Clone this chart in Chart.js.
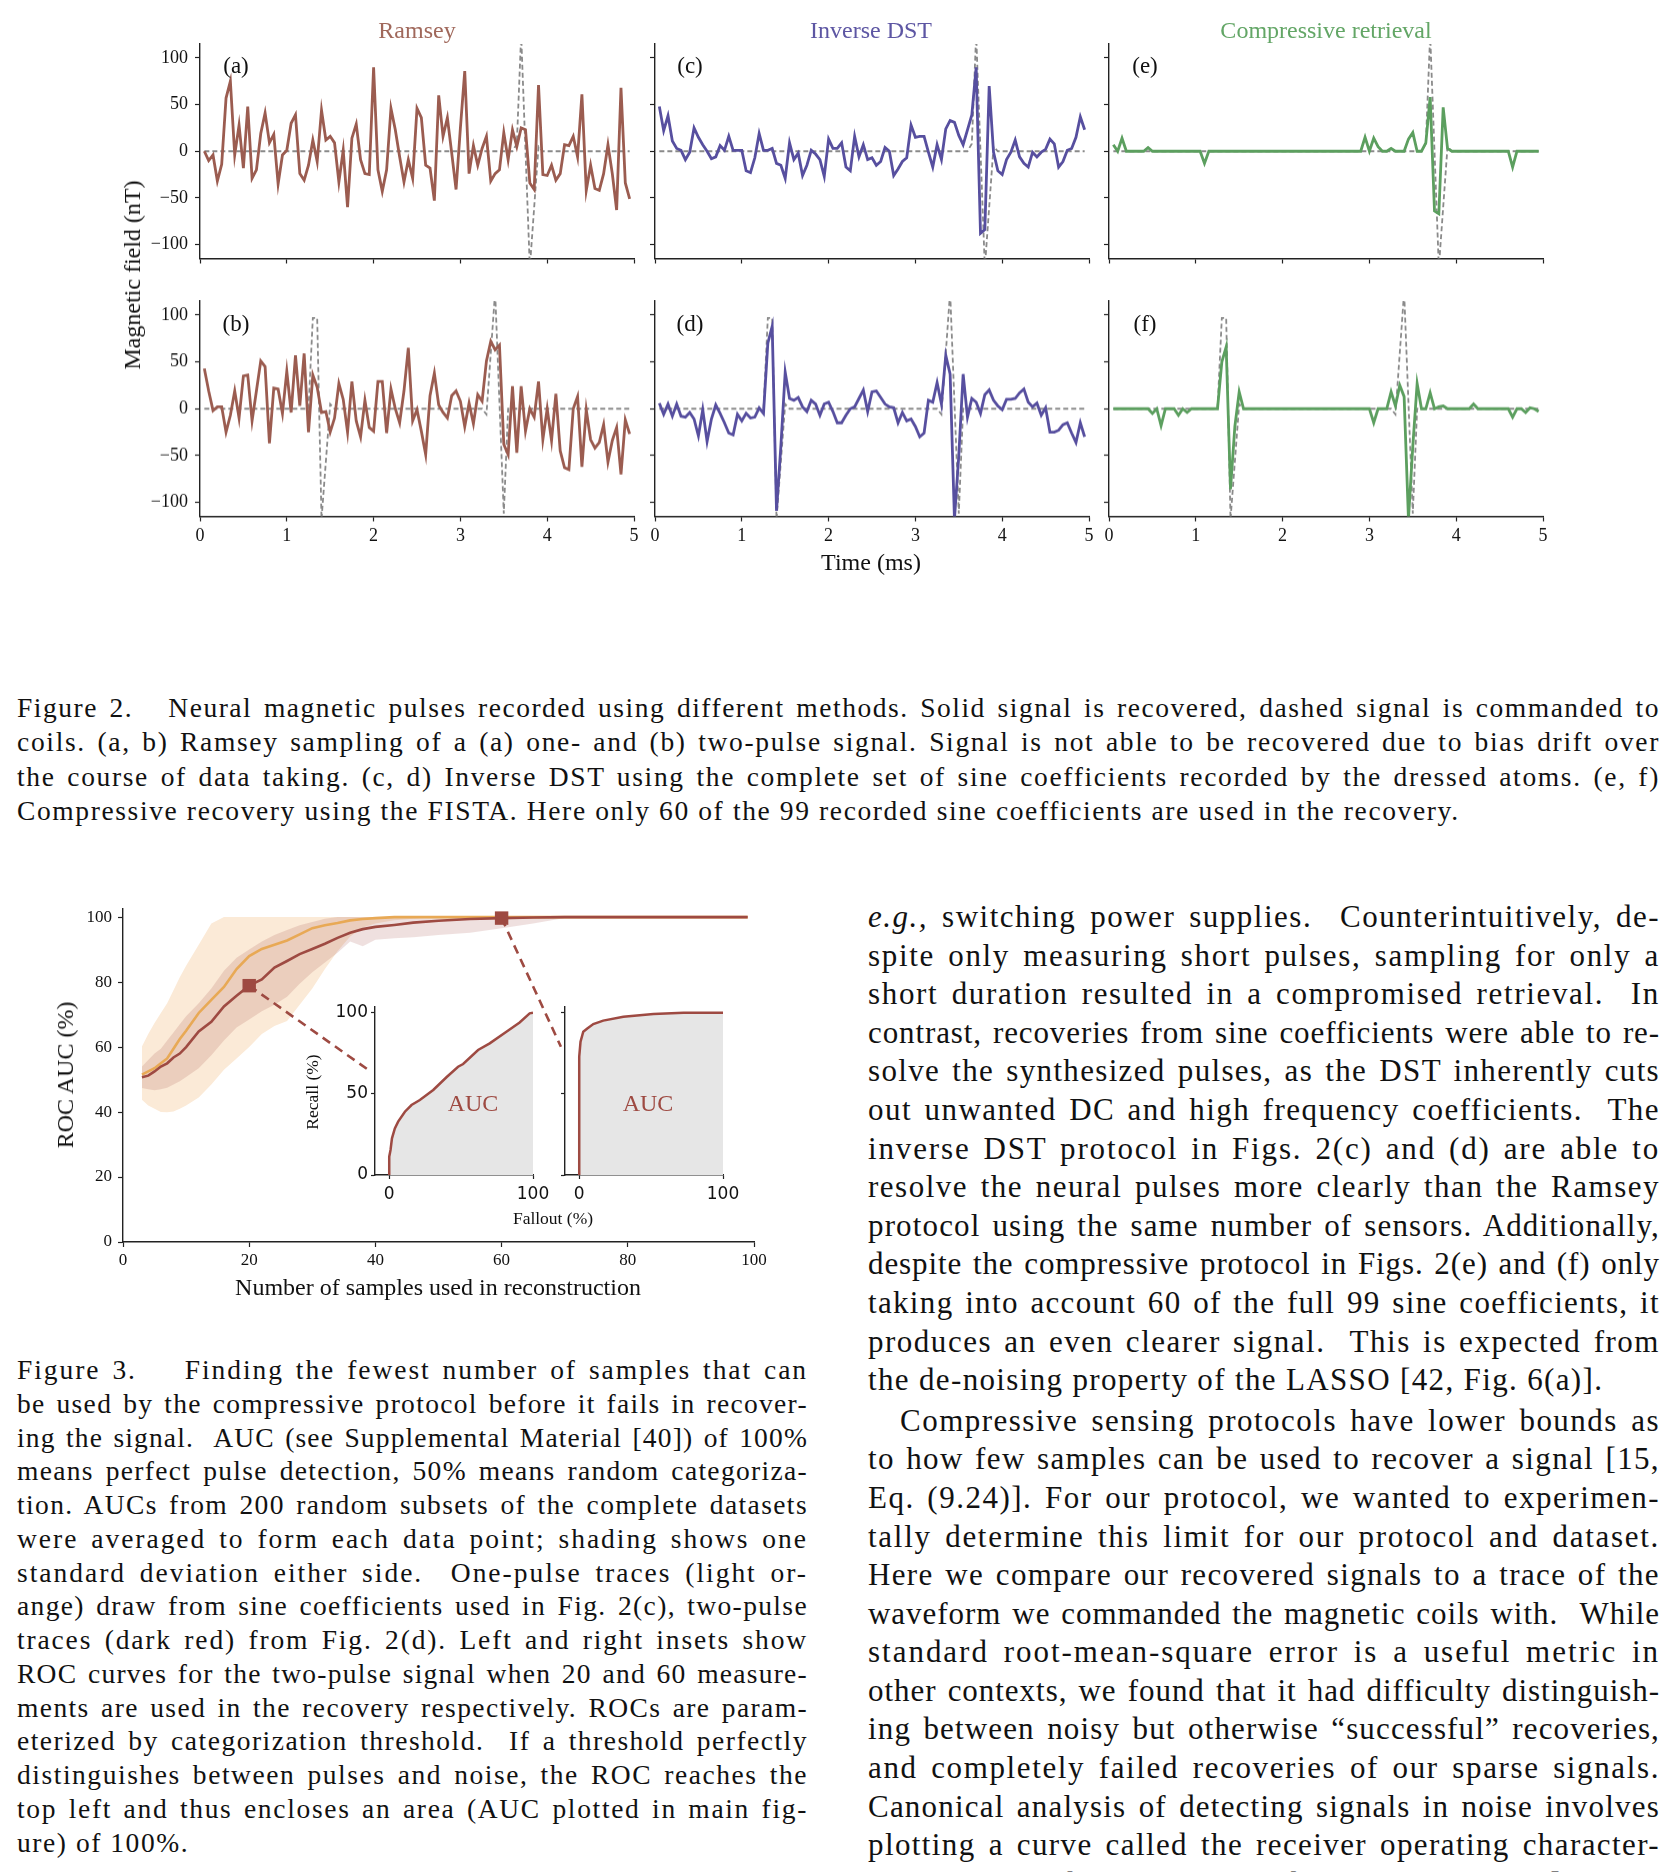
<!DOCTYPE html>
<html>
<head>
<meta charset="utf-8">
<script src="https://cdn.jsdelivr.net/npm/chart.js@4.4.1/dist/chart.umd.min.js"></script>
<style>
  html, body { margin: 0; padding: 0; background: #fff; }
  body { width: 1670px; height: 1872px; position: relative; overflow: hidden;
         font-family: "Liberation Serif", "Times New Roman", serif; color: #111; }
  .box { position: absolute; z-index: 1; }
  .lbl { position: absolute; z-index: 3; transform: translate(-50%, -50%); white-space: nowrap; line-height: 1; }
  .rot { transform: translate(-50%, -50%) rotate(-90deg); }
  .txt { position: absolute; }
  .ln { white-space: pre; }
  .cap { font-size: 27.5px; line-height: 34.3px; }
  .cap3 { font-size: 27.5px; line-height: 33.75px; }
  .body { font-size: 31px; line-height: 38.6px; }
</style>
</head>
<body>

<!-- figure 2 labels -->
<div class="lbl" style="left:417px;top:30px;font-size:24px;color:#a0685b">Ramsey</div>
<div class="lbl" style="left:871px;top:30px;font-size:24px;color:#5d56a3">Inverse DST</div>
<div class="lbl" style="left:1326px;top:30px;font-size:24px;color:#63a666">Compressive retrieval</div>
<div class="lbl rot" style="left:132px;top:275px;font-size:24px">Magnetic field (nT)</div>
<div class="lbl" style="left:871px;top:562px;font-size:24px">Time (ms)</div>
<div class="lbl" style="left:236px;top:65px;font-size:23px">(a)</div>
<div class="lbl" style="left:236px;top:323px;font-size:23px">(b)</div>
<div class="lbl" style="left:690px;top:65px;font-size:23px">(c)</div>
<div class="lbl" style="left:690px;top:323px;font-size:23px">(d)</div>
<div class="lbl" style="left:1145px;top:65px;font-size:23px">(e)</div>
<div class="lbl" style="left:1145px;top:323px;font-size:23px">(f)</div>

<div class="txt cap" id="cap2" style="left:17px;top:691px;width:1643px">
<div class="ln"><span>Figure 2.   Neural magnetic pulses recorded using different methods. Solid signal is recovered, dashed signal is commanded to</span></div>
<div class="ln"><span>coils. (a, b) Ramsey sampling of a (a) one- and (b) two-pulse signal. Signal is not able to be recovered due to bias drift over</span></div>
<div class="ln"><span>the course of data taking. (c, d) Inverse DST using the complete set of sine coefficients recorded by the dressed atoms. (e, f)</span></div>
<div class="ln last"><span>Compressive recovery using the FISTA. Here only 60 of the 99 recorded sine coefficients are used in the recovery.</span></div>
</div>

<!-- figure 3 labels -->
<div class="lbl rot" style="left:65px;top:1075px;font-size:24px">ROC AUC (%)</div>
<div class="lbl" style="left:438px;top:1287px;font-size:24px">Number of samples used in reconstruction</div>
<div class="lbl rot" style="left:313px;top:1092px;font-size:17.5px">Recall (%)</div>
<div class="lbl" style="left:553px;top:1219px;font-size:17.5px">Fallout (%)</div>
<div class="lbl" style="left:473px;top:1103px;font-size:24px;color:#9e4a42">AUC</div>
<div class="lbl" style="left:648px;top:1103px;font-size:24px;color:#9e4a42">AUC</div>

<div class="txt cap3" id="cap3" style="left:17px;top:1353px;width:791px">
<div class="ln"><span>Figure 3.    Finding the fewest number of samples that can</span></div>
<div class="ln"><span>be used by the compressive protocol before it fails in recover-</span></div>
<div class="ln"><span>ing the signal.  AUC (see Supplemental Material [40]) of 100%</span></div>
<div class="ln"><span>means perfect pulse detection, 50% means random categoriza-</span></div>
<div class="ln"><span>tion. AUCs from 200 random subsets of the complete datasets</span></div>
<div class="ln"><span>were averaged to form each data point; shading shows one</span></div>
<div class="ln"><span>standard deviation either side.  One-pulse traces (light or-</span></div>
<div class="ln"><span>ange) draw from sine coefficients used in Fig. 2(c), two-pulse</span></div>
<div class="ln"><span>traces (dark red) from Fig. 2(d). Left and right insets show</span></div>
<div class="ln"><span>ROC curves for the two-pulse signal when 20 and 60 measure-</span></div>
<div class="ln"><span>ments are used in the recovery respectively. ROCs are param-</span></div>
<div class="ln"><span>eterized by categorization threshold.  If a threshold perfectly</span></div>
<div class="ln"><span>distinguishes between pulses and noise, the ROC reaches the</span></div>
<div class="ln"><span>top left and thus encloses an area (AUC plotted in main fig-</span></div>
<div class="ln last"><span>ure) of 100%.</span></div>
</div>

<div class="txt body" id="col2" style="left:868px;top:898px;width:792px">
<div class="ln"><span><i>e.g.,</i> switching power supplies.  Counterintuitively, de-</span></div>
<div class="ln"><span>spite only measuring short pulses, sampling for only a</span></div>
<div class="ln"><span>short duration resulted in a compromised retrieval.  In</span></div>
<div class="ln"><span>contrast, recoveries from sine coefficients were able to re-</span></div>
<div class="ln"><span>solve the synthesized pulses, as the DST inherently cuts</span></div>
<div class="ln"><span>out unwanted DC and high frequency coefficients.  The</span></div>
<div class="ln"><span>inverse DST protocol in Figs. 2(c) and (d) are able to</span></div>
<div class="ln"><span>resolve the neural pulses more clearly than the Ramsey</span></div>
<div class="ln"><span>protocol using the same number of sensors. Additionally,</span></div>
<div class="ln"><span>despite the compressive protocol in Figs. 2(e) and (f) only</span></div>
<div class="ln"><span>taking into account 60 of the full 99 sine coefficients, it</span></div>
<div class="ln"><span>produces an even clearer signal.  This is expected from</span></div>
<div class="ln last"><span>the de-noising property of the LASSO [42, Fig. 6(a)].</span></div>
<div class="ln" style="padding-left:32px;margin-top:2px"><span>Compressive sensing protocols have lower bounds as</span></div>
<div class="ln"><span>to how few samples can be used to recover a signal [15,</span></div>
<div class="ln"><span>Eq. (9.24)]. For our protocol, we wanted to experimen-</span></div>
<div class="ln"><span>tally determine this limit for our protocol and dataset.</span></div>
<div class="ln"><span>Here we compare our recovered signals to a trace of the</span></div>
<div class="ln"><span>waveform we commanded the magnetic coils with.  While</span></div>
<div class="ln"><span>standard root-mean-square error is a useful metric in</span></div>
<div class="ln"><span>other contexts, we found that it had difficulty distinguish-</span></div>
<div class="ln"><span>ing between noisy but otherwise “successful” recoveries,</span></div>
<div class="ln"><span>and completely failed recoveries of our sparse signals.</span></div>
<div class="ln"><span>Canonical analysis of detecting signals in noise involves</span></div>
<div class="ln"><span>plotting a curve called the receiver operating character-</span></div>
<div class="ln"><span>istic (ROC), and then the area under the curve (AUC) [43, Sec.</span></div>
</div>

<script>
// ---- figure 2 data: sample times (ms) and recovered field (nT)
const TIME = [
  0.05, 0.10, 0.15, 0.20, 0.25, 0.30, 0.35, 0.40, 0.45, 0.50,
  0.55, 0.60, 0.65, 0.70, 0.75, 0.80, 0.85, 0.90, 0.95, 1.00,
  1.05, 1.10, 1.15, 1.20, 1.25, 1.30, 1.35, 1.40, 1.45, 1.50,
  1.55, 1.60, 1.65, 1.70, 1.75, 1.80, 1.85, 1.90, 1.95, 2.00,
  2.05, 2.10, 2.15, 2.20, 2.25, 2.30, 2.35, 2.40, 2.45, 2.50,
  2.55, 2.60, 2.65, 2.70, 2.75, 2.80, 2.85, 2.90, 2.95, 3.00,
  3.05, 3.10, 3.15, 3.20, 3.25, 3.30, 3.35, 3.40, 3.45, 3.50,
  3.55, 3.60, 3.65, 3.70, 3.75, 3.80, 3.85, 3.90, 3.95, 4.00,
  4.05, 4.10, 4.15, 4.20, 4.25, 4.30, 4.35, 4.40, 4.45, 4.50,
  4.55, 4.60, 4.65, 4.70, 4.75, 4.80, 4.85, 4.90, 4.95];

const RAMSEY_ONE = [
  0, -10, -4, -32, -14, 57, 75, -4, 28, -18,
  48, -29, -20, 19, 41, 9, 18, -35, -4, 1,
  30, 39, -24, -31, -15, 12, -11, 44, 12, 16,
  9, -33, 1, -60, 14, 29, -9, -24, -25, 90,
  -20, -43, -20, 46, 23, -6, -33, -9, -29, 46,
  36, -15, -18, -53, 60, 16, 36, -2, -41, 25,
  86, -24, 6, -15, 3, 16, -32, -24, -20, 20,
  -9, 23, 5, 25, 23, -34, -41, 71, -25, -26,
  -15, -31, -24, 7, 6, 16, -6, 61, -42, -15,
  -40, -42, -24, 7, -24, -63, 68, -34, -51];

const RAMSEY_TWO = [
  43, 19, -2, 2, 2, -25, -7, 19, -10, 35,
  36, -13, 19, 51, 45, -37, 22, 21, -5, 40,
  -4, 57, 3, 59, -25, 36, 23, -4, -3, -25,
  -10, 27, 10, -25, 29, -13, -30, 9, -20, -24,
  29, 29, -26, 21, 0, -15, 19, 65, -13, -1,
  -24, -49, 14, 38, 4, -4, -10, 14, 19, 8,
  -19, 6, -16, 15, 8, 51, 72, 63, 68, -38,
  -49, 24, -47, 24, -24, 0, -9, 29, -33, 0,
  -34, 16, -45, -63, -65, 0, 13, -62, -1, -33,
  -42, -36, -17, -57, -34, -20, -70, -12, -27];

const DST_ONE = [
  48, 22, 38, 11, 3, 1, -9, -1, 25, 15,
  7, 0, -8, -6, 6, 1, 16, 1, 1, 1,
  -21, -23, -7, 19, 1, 1, 3, -13, -15, -29,
  9, -9, -2, -26, -15, 1, -3, -9, -27, 13,
  3, 3, 9, -17, -21, 16, -6, 7, -9, -7,
  -15, -11, 4, 0, -26, -19, -11, -7, 28, 15,
  16, 16, -1, -17, 7, -9, 24, 33, 31, 17,
  7, 23, 39, 90, -88, -84, 70, -1, -21, -25,
  -9, -1, 12, -6, -13, -17, -1, -6, -1, 2,
  13, 8, -17, -11, 1, 3, 15, 37, 23];

const DST_TWO = [
  6, -6, 5, -8, 5, -8, -9, -4, -11, -29,
  -1, -35, -11, 4, -5, -15, -26, -28, -6, -13,
  -5, -10, -9, 1, -5, 70, 88, -109, -40, 39,
  11, 9, 12, 2, -3, 9, 5, -7, 5, 7,
  -3, -15, -15, -7, 0, 2, 11, 20, -3, 18,
  19, 12, 5, 2, 1, -15, -4, -13, -11, -19,
  -30, -26, 9, 7, 28, 5, 57, 37, -118, -50,
  37, -9, 11, 7, -5, 15, 20, 9, 3, -1,
  10, 10, 11, 17, 21, 7, 2, 6, -7, 1,
  -25, -25, -23, -17, -15, -26, -36, -15, -30];

const CS_ONE = [
  7, 0, 14, 0, 0, 0, 0, 0, 4, 0,
  0, 0, 0, 0, 0, 0, 0, 0, 0, 0,
  0, -13, 0, 0, 0, 0, 0, 0, 0, 0,
  0, 0, 0, 0, 0, 0, 0, 0, 0, 0,
  0, 0, 0, 0, 0, 0, 0, 0, 0, 0,
  0, 0, 0, 0, 0, 0, 0, 0, 15, 0,
  14, 5, 0, 0, 3, 0, 0, 0, 13, 20,
  0, 0, 9, 58, -64, -67, 47, 3, 0, 0,
  0, 0, 0, 0, 0, 0, 0, 0, 0, 0,
  0, 0, -17, 0, 0, 0, 0, 0, 0];

const CS_TWO = [
  0, 0, 0, 0, 0, 0, 0, 0, 0, -5,
  0, -18, 0, 0, 0, -7, 0, -4, 0, 0,
  0, 0, 0, 0, 0, 50, 66, -86, -19, 18,
  0, 0, 0, 0, 0, 0, 0, 0, 0, 0,
  0, 0, 0, 0, 0, 0, 0, 0, 0, 0,
  0, 0, 0, 0, 0, 0, 0, 0, 0, 0,
  -15, 0, 0, 0, 18, 3, 25, 13, -118, -40,
  27, 0, 0, 17, 0, 2, 3, 0, 0, 0,
  0, 0, 0, 5, 0, 0, 0, 0, 0, 0,
  0, 0, -9, 0, 0, -4, 1, 0, -3];

// commanded waveforms (dashed)
const CMD_ONE_T = [0.05, 3.60, 3.65, 3.70, 3.80, 3.90, 3.95, 4.95];
const CMD_ONE_V = [0, 0, 8, 125, -125, 5, 0, 0];
const CMD_TWO_T = [0.05, 1.25, 1.30, 1.35, 1.40, 1.50, 1.55, 3.25, 3.30, 3.40, 3.50, 3.55, 4.95];
const CMD_TWO_V = [0, 0, 97, 97, -118, 5, 0, 0, -6, 125, -112, 0, 0];

const FIELD_TICKS = [-100, -50, 0, 50, 100];
const TIME_TICKS = [0, 1, 2, 3, 4, 5];

// ---- figure 3 data: ROC AUC (%) against number of samples
const N_SAMPLES = [3, 4, 5, 6, 7, 8, 9, 10, 12, 14, 16, 18, 20, 22, 24, 26, 28, 30, 32, 34,
  36, 38, 40, 43, 46, 50, 55, 60, 65, 70, 80, 90, 99];
const AUC_ONE = [51.5, 52.5, 53.5, 55, 56.5, 59.5, 62.5, 65, 70.5, 74.5, 78.5, 84, 88, 90.2, 91.5,
  92.8, 94.7, 96.6, 97.5, 98.2, 99, 99.4, 99.7, 100, 100, 100, 100, 100, 100, 100, 100, 100, 100];
const AUC_ONE_HI = [60.2, 64, 67.4, 70.5, 73.5, 77.5, 81.5, 85, 91.5, 98, 100, 100, 100, 100, 100,
  100, 100, 100, 100, 100, 100, 100, 100, 100, 100, 100, 100, 100, 100, 100, 100, 100, 100];
const AUC_ONE_LO = [43.8, 42, 41, 40, 39.9, 40.2, 41, 42, 44.5, 48.5, 53, 56.5, 60, 64, 66.5,
  68, 73, 78, 84, 89.5, 94, 96.8, 98, 99, 99.5, 100, 100, 100, 100, 100, 100, 100, 100];
const AUC_TWO = [50.7, 51.2, 52.5, 54, 55, 56.8, 58, 60, 64.8, 67.8, 72.5, 75.8, 78.9, 80.8, 84.5,
  86.5, 88.6, 90.2, 91.8, 93.6, 95.2, 96.3, 97, 97.6, 98.3, 98.9, 99.4, 99.7, 99.9, 100, 100, 100, 100];
const AUC_TWO_HI = [54, 56, 58, 59.5, 62, 64.5, 67, 69.5, 73.5, 78, 83.5, 87.5, 90, 92.5, 94.5,
  96, 97.5, 98.5, 99.5, 100, 100, 100, 100, 100, 100, 100, 100, 100, 100, 100, 100, 100, 100];
const AUC_TWO_LO = [47.4, 47, 46.7, 47, 47.5, 48.5, 49.5, 50.8, 53.5, 57.5, 62, 66, 68.5, 71, 73,
  75.5, 79.5, 83, 86, 89, 92.5, 91, 93, 93.5, 93.8, 94.5, 95.2, 96.6, 98, 99.7, 100, 100, 100];

const MARK_X = [20, 60];
const MARK_Y = [78.9, 99.7];
const LINK_END_X = [39.3, 69.4];
const LINK_END_Y = [52.4, 60.1];

// inset ROC curves (fallout %, recall %)
const ROC20_X = [0, 0, 0.9, 1.9, 3.9, 6.2, 10.9, 15.5, 21.3, 30.6, 39.8, 47.9, 51.4, 61.8, 69.9, 81.5, 90.7, 97.7, 100];
const ROC20_Y = [0, 11.3, 15.4, 22.6, 28.7, 32.9, 39, 43.1, 46.2, 52.4, 60.2, 66.7, 68.4, 77, 81.1, 88.3, 94, 99.6, 100];
const ROC60_X = [0, 0, 0.9, 2.8, 5.6, 9.8, 16.7, 30.7, 51.6, 72.6, 100];
const ROC60_Y = [0, 72.9, 82.1, 88.3, 90.3, 93, 95.1, 97.5, 99.2, 100, 100];

const AUC_TICKS = [0, 20, 40, 60, 80, 100];
const N_TICKS = [0, 20, 40, 60, 80, 100];
const RECALL_TICKS = [0, 50, 100];
const FALLOUT_TICKS = [0, 100];

const SERIF = '"Liberation Serif", "Times New Roman", serif';
const SANS = '"DejaVu Sans", sans-serif';
const BROWN = '#9b5c50';
const PURPLE = '#574f9f';
const GREEN = '#5c9f5f';
const DASH = '#8a8a8a';
const RED = '#9e4a42';
const ORANGE = '#e8a955';

const pts = (xs, ys) => xs.map((x, i) => ({ x: x, y: ys[i] }));
const minus = v => (v < 0 ? '\u2212' + Math.abs(v) : String(v));

function makeCanvas(left, top, w, h) {
  const d = document.createElement('div');
  d.className = 'box';
  d.style.left = left + 'px';
  d.style.top = top + 'px';
  d.style.width = w + 'px';
  d.style.height = h + 'px';
  const c = document.createElement('canvas');
  d.appendChild(c);
  document.body.appendChild(d);
  return c;
}

function axis(pos, min, max, ticks, o) {
  return {
    type: 'linear', position: pos, min: min, max: max,
    afterBuildTicks: s => { s.ticks = ticks.map(v => ({ value: v })); },
    afterFit: s => {
      if (pos === 'bottom') { s.height = o.size; s.paddingLeft = 0; s.paddingRight = 0; }
      else { s.width = o.size; s.paddingTop = 0; s.paddingBottom = 0; }
    },
    border: { display: true, color: '#222', width: 1.4 },
    grid: { drawOnChartArea: false, drawTicks: true, tickLength: o.tick || 5, tickWidth: 1.2, color: '#222' },
    ticks: {
      autoSkip: false, maxRotation: 0, padding: o.pad, color: '#111', font: o.font,
      callback: v => (o.labels ? minus(v) : ''),
    },
  };
}

// box = chart area (x, y, w, h) plus room for the axes (pl, pb) and overflow (pt, pr)
function chart(box, xAxis, yAxis, datasets) {
  const c = makeCanvas(box.x - box.pl, box.y - box.pt, box.w + box.pl + box.pr, box.h + box.pt + box.pb);
  return new Chart(c, {
    type: 'line',
    data: { datasets: datasets },
    options: {
      responsive: true, maintainAspectRatio: false, animation: false,
      layout: { padding: { top: box.pt, right: box.pr, left: 0, bottom: 0 } },
      plugins: { legend: { display: false }, tooltip: { enabled: false } },
      elements: { point: { radius: 0 }, line: { tension: 0 } },
      scales: { x: xAxis, y: yAxis },
    },
  });
}

// ---- figure 2: six panels
const COL_X = [200, 654.5, 1109];
const ROW_Y = [43.5, 301];
const PANELS = [
  { vals: RAMSEY_ONE, t: CMD_ONE_T, v: CMD_ONE_V, col: 0, row: 0, color: BROWN },
  { vals: RAMSEY_TWO, t: CMD_TWO_T, v: CMD_TWO_V, col: 0, row: 1, color: BROWN },
  { vals: DST_ONE, t: CMD_ONE_T, v: CMD_ONE_V, col: 1, row: 0, color: PURPLE },
  { vals: DST_TWO, t: CMD_TWO_T, v: CMD_TWO_V, col: 1, row: 1, color: PURPLE },
  { vals: CS_ONE, t: CMD_ONE_T, v: CMD_ONE_V, col: 2, row: 0, color: GREEN },
  { vals: CS_TWO, t: CMD_TWO_T, v: CMD_TWO_V, col: 2, row: 1, color: GREEN },
];

PANELS.forEach(p => {
  const box = { x: COL_X[p.col], y: ROW_Y[p.row], w: 434, h: 214.5, pl: 60, pt: 12, pr: 14, pb: 40 };
  const tickFont = { family: SERIF, size: 18 };
  chart(box,
    axis('bottom', 0, 5, TIME_TICKS, { size: 40, pad: 4, labels: p.row === 1, font: tickFont }),
    axis('left', -115, 115, FIELD_TICKS, { size: 60, pad: 7, labels: p.col === 0, font: tickFont }),
    [
      { data: pts(TIME, p.vals), borderColor: p.color, borderWidth: 2.8, order: 0 },
      { data: pts(p.t, p.v), borderColor: DASH, borderWidth: 1.8, borderDash: [5, 3], order: 1 },
    ]);
});

// ---- figure 3: main AUC plot
{
  const box = { x: 123, y: 909, w: 631, h: 333, pl: 60, pt: 15, pr: 20, pb: 40 };
  const tickFont = { family: SERIF, size: 17 };
  chart(box,
    axis('bottom', 0, 100, N_TICKS, { size: 40, pad: 3, labels: true, font: tickFont }),
    axis('left', 0, 102.5, AUC_TICKS, { size: 60, pad: 6, labels: true, font: tickFont }),
    [
      { data: pts(N_SAMPLES, AUC_ONE_HI), borderWidth: 0, fill: '+1', backgroundColor: '#fbead7', order: 7 },
      { data: pts(N_SAMPLES, AUC_ONE_LO), borderWidth: 0, order: 8 },
      { data: pts(N_SAMPLES, AUC_TWO_HI), borderWidth: 0, fill: '+1', backgroundColor: 'rgba(158,74,66,0.17)', order: 5 },
      { data: pts(N_SAMPLES, AUC_TWO_LO), borderWidth: 0, order: 6 },
      { data: pts(N_SAMPLES, AUC_ONE), borderColor: ORANGE, borderWidth: 2.6, order: 4 },
      { data: pts(N_SAMPLES, AUC_TWO), borderColor: RED, borderWidth: 2.6, order: 3 },
      { data: [{ x: MARK_X[0], y: MARK_Y[0] }, { x: LINK_END_X[0], y: LINK_END_Y[0] }],
        borderColor: RED, borderWidth: 2.6, borderDash: [9, 6], order: 2 },
      { data: [{ x: MARK_X[1], y: MARK_Y[1] }, { x: LINK_END_X[1], y: LINK_END_Y[1] }],
        borderColor: RED, borderWidth: 2.6, borderDash: [9, 6], order: 2 },
      { data: pts(MARK_X, MARK_Y), showLine: false, pointStyle: 'rect', pointRadius: 9.5,
        backgroundColor: RED, borderWidth: 0, order: 0 },
    ]);
}

// ---- figure 3: ROC insets
[[375, ROC20_X, ROC20_Y, true], [565, ROC60_X, ROC60_Y, false]].forEach(([x0, fx, ry, yLabels]) => {
  const box = { x: x0, y: 1007, w: 158, h: 168, pl: 50, pt: 8, pr: 24, pb: 36 };
  const tickFont = { family: SANS, size: 17 };
  chart(box,
    axis('bottom', -9.9, 100, FALLOUT_TICKS, { size: 36, pad: 5, labels: true, font: tickFont, tick: 4 }),
    axis('left', 0, 103.5, RECALL_TICKS, { size: 50, pad: 3, labels: yLabels, font: tickFont, tick: 4 }),
    [
      { data: pts(fx, ry), borderColor: RED, borderWidth: 2.5, fill: 'origin', backgroundColor: '#e6e6e6' },
    ]);
});

// ---- text justification, line by line
function justifyBlock(block) {
  const lines = Array.from(block.querySelectorAll('.ln'));
  const spacing = [];
  lines.forEach(ln => {
    if (ln.classList.contains('last')) return;
    const s = ln.firstElementChild;
    const W = ln.clientWidth - (parseFloat(getComputedStyle(ln).paddingLeft) || 0);
    const text = s.textContent;
    const gaps = (text.match(/ /g) || []).length;
    let w = s.getBoundingClientRect().width;
    const ls = Math.max(-0.6, Math.min(2.2, (W - w) * 0.75 / text.length));
    s.style.letterSpacing = ls + 'px';
    spacing.push(ls);
    w = s.getBoundingClientRect().width;
    s.style.wordSpacing = ((W - w) / Math.max(1, gaps)) + 'px';
  });
  const avg = spacing.reduce((a, b) => a + b, 0) / Math.max(1, spacing.length);
  lines.filter(l => l.classList.contains('last')).forEach(l => {
    l.firstElementChild.style.letterSpacing = avg + 'px';
  });
}

document.fonts.ready.then(() => {
  ['cap2', 'cap3', 'col2'].forEach(id => justifyBlock(document.getElementById(id)));
});
</script>
</body>
</html>
